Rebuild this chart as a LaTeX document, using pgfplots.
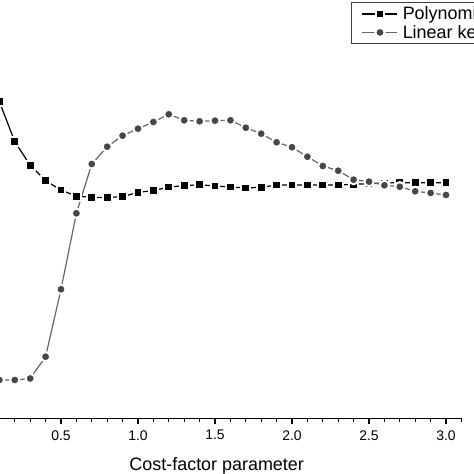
\documentclass[border=0pt]{standalone}
\usepackage{fontspec}
\setmainfont{Liberation Sans}
\usepackage{pgfplots}
\pgfplotsset{compat=1.18}
\begin{document}
\begin{tikzpicture}
\begin{axis}[
  x=154bp, y=1bp,
  xmin=-0.078, xmax=3.1, ymin=0, ymax=418.3,
  axis x line=bottom, axis y line=none,
  x axis line style={-, line width=1.5bp},
  xtick={0,0.5,...,3.5}, minor x tick num=4,
  xticklabels={,0.5,1.0,1.5,2.0,2.5,3.0},
  tick align=outside,
  major tick length=6bp, minor tick length=3.5bp,
  tick style={line width=1.2bp, black},
  xticklabel style={font=\fontsize{14}{16}\selectfont, yshift=-2.5bp},
  clip=false,
  legend style={at={(axis cs:2.381,374)}, anchor=south west, draw=black!75, line width=1.2bp,
    font=\fontsize{18}{20}\selectfont, inner xsep=10.6bp, inner ysep=2bp,
    nodes={inner sep=2bp, text depth=0.15em}, column sep=2.7bp},
  legend cell align=left,
  legend image code/.code={\draw[mark repeat=2, mark phase=2, #1] plot coordinates {(0bp,0bp) (17.5bp,0bp) (35bp,0bp)};},
]
\addplot[black, line width=1.2bp, mark=square*, mark size=4.4bp,
  mark options={draw=white, line width=2bp, fill=black, solid}] coordinates {
(0.1,316.6) (0.2,276.6) (0.3,253.0) (0.4,237.6) (0.5,228.3) (0.6,222.1)
(0.7,221.0) (0.8,220.8) (0.9,221.6) (1.0,226.0) (1.1,227.6) (1.2,231.3)
(1.3,232.6) (1.4,233.6) (1.5,232.3) (1.6,231.3) (1.7,230.3) (1.8,231.0)
(1.9,233.3) (2.0,233.3) (2.1,233.3) (2.2,233.3) (2.3,233.3) (2.4,234.0)
(2.5,234.6) (2.6,235.3) (2.7,235.6) (2.8,235.6) (2.9,235.6) (3.0,235.6)
};
\addlegendentry{Polynomial kernel}
\addplot[black!60, line width=1.2bp, mark=*, mark size=4.6bp,
  mark options={draw=white, line width=2bp, fill=black!72, solid}] coordinates {
(0.1,38.3) (0.2,38.3) (0.3,39.8) (0.4,61.6) (0.5,129.0) (0.6,205.0)
(0.7,254.3) (0.8,271.6) (0.9,282.6) (1.0,289.6) (1.1,296.3) (1.2,304.0)
(1.3,298.0) (1.4,297.0) (1.5,297.6) (1.6,298.0) (1.7,290.6) (1.8,284.6)
(1.9,276.0) (2.0,271.0) (2.1,261.6) (2.2,252.3) (2.3,247.6) (2.4,238.6)
(2.5,236.6) (2.6,233.0) (2.7,231.6) (2.8,227.0) (2.9,225.3) (3.0,223.3)
};
\addlegendentry{Linear kernel}
\node[anchor=base, font=\fontsize{18}{20}\selectfont] at (axis cs:1.511,-52.2) {Cost-factor parameter};
\coordinate (BL) at (axis cs:0.1039,-55.7);
\coordinate (TR) at (axis cs:3.1818,418.3);
\end{axis}
\pgfresetboundingbox
\path[use as bounding box] (BL) rectangle (TR);
\end{tikzpicture}
\end{document}
